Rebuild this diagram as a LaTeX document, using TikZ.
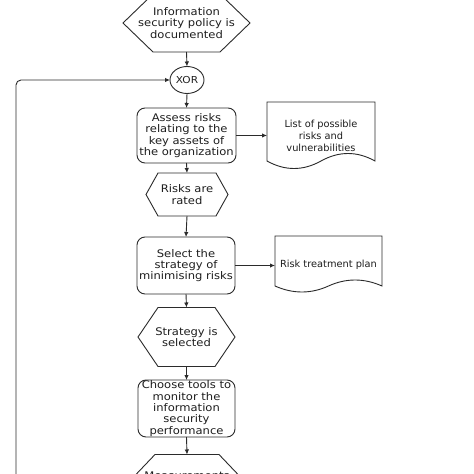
\documentclass[tikz,border=0pt]{standalone}
\usepackage{fontspec}
\setmainfont{DejaVu Sans}[FakeStretch=1.1]
\newfontfamily\docfont{DejaVu Sans}
\usetikzlibrary{arrows.meta,calc,shapes.geometric}
\definecolor{ink}{HTML}{2B2B2B}
\definecolor{txt}{HTML}{1E1E1E}
\tikzset{
  line/.style={draw=ink, line width=0.9bp},
  arr/.style={line, -{Latex[length=5bp,width=4.5bp]}},
  boxtxt/.style={font=\fontsize{10.5bp}{11.3bp}\selectfont, text=txt, align=center, inner sep=0pt, outer sep=0pt},
  procbox/.style={boxtxt, line, rounded corners=8bp, minimum width=#1},
  hexnode/.style={boxtxt, draw=none, minimum width=#1},
  docnode/.style={font=\docfont\fontsize{9.8bp}{12bp}\selectfont, text=txt, align=center, inner sep=0pt, outer sep=0pt, minimum width=#1},
  xornode/.style={boxtxt, line, ellipse, minimum width=34bp, minimum height=27bp, font=\fontsize{9.6bp}{10bp}\selectfont},
}
\newcommand\hexpath[2]{\draw[line] (#1.west) -- ($(#1.north west)+(#2,0)$) -- ($(#1.north east)+(-#2,0)$) -- (#1.east) -- ($(#1.south east)+(-#2,0)$) -- ($(#1.south west)+(#2,0)$) -- cycle;}
\begin{document}
\begin{tikzpicture}[x=1bp,y=-1bp]
\useasboundingbox (0,0) rectangle (474,474);
\clip (0,0) rectangle (474,474);
\fill[white] (0,0) rectangle (474,474);

% hexagons (events)
\node[hexnode=127bp, minimum height=58bp] (h1) at (186.5,23) {Information\\security policy is\\documented};
\hexpath{h1}{30}
\node[hexnode=82bp, minimum height=43bp] (h2) at (187,194.5) {Risks are\\rated};
\hexpath{h2}{12}
\node[hexnode=97bp, minimum height=59bp] (h3) at (186.5,337) {Strategy is\\selected};
\hexpath{h3}{20}
\node[hexnode=104bp, minimum height=42bp] (h4) at (187,475.5) {Measurements};
\hexpath{h4}{20}

% XOR
\node[xornode] (xor) at (187,80) {XOR};

% process boxes
\node[procbox=99bp, minimum height=55bp] (p1) at (186.5,135.5) {Assess risks\\relating to the\\key assets of\\the organization};
\node[procbox=98bp, minimum height=57bp] (p2) at (186,265.5) {Select the\\strategy of\\minimising risks};
\node[procbox=97bp, minimum height=57bp] (p3) at (186.5,408.5) {Choose tools to\\monitor the\\information\\security\\performance};

% documents
\node[docnode=108bp] (d1) at (321,136) {List of possible\\risks and\\vulnerabilities};
\draw[line] ($(d1.center)+(-54,25)$) -- ($(d1.center)+(-54,-34)$) -- ($(d1.center)+(54,-34)$) -- ($(d1.center)+(54,25)$)
  .. controls ($(d1.center)+(36,15)$) and ($(d1.center)+(18,15)$) .. ($(d1.center)+(0,25)$)
  .. controls ($(d1.center)+(-18,35)$) and ($(d1.center)+(-36,35)$) .. cycle;
\node[docnode=107bp] (d2) at (328.5,265) {Risk treatment plan};
\draw[line] ($(d2.center)+(-53.5,21)$) -- ($(d2.center)+(-53.5,-29)$) -- ($(d2.center)+(53.5,-29)$) -- ($(d2.center)+(53.5,21)$)
  .. controls ($(d2.center)+(35.5,13)$) and ($(d2.center)+(17.5,13)$) .. ($(d2.center)+(0,21)$)
  .. controls ($(d2.center)+(-17.5,29)$) and ($(d2.center)+(-35.5,29)$) .. cycle;

% connectors
\draw[arr] (h1.south) -- (xor.north);
\draw[arr] (xor.south) -- (p1.north);
\draw[arr] (p1.east) -- (p1.east -| d1.west);
\draw[arr] (p1.south) -- (h2.north);
\draw[arr] (h2.south) -- (p2.north);
\draw[arr] (p2.east) -- (p2.east -| d2.west);
\draw[arr] (p2.south) -- (h3.north);
\draw[arr] (h3.south) -- (p3.north);
\draw[arr] (p3.south) -- (h4.north);
\coordinate (loop) at (16,490);
\draw[arr, rounded corners=5bp] (loop) |- (xor.west);
\end{tikzpicture}
\end{document}
